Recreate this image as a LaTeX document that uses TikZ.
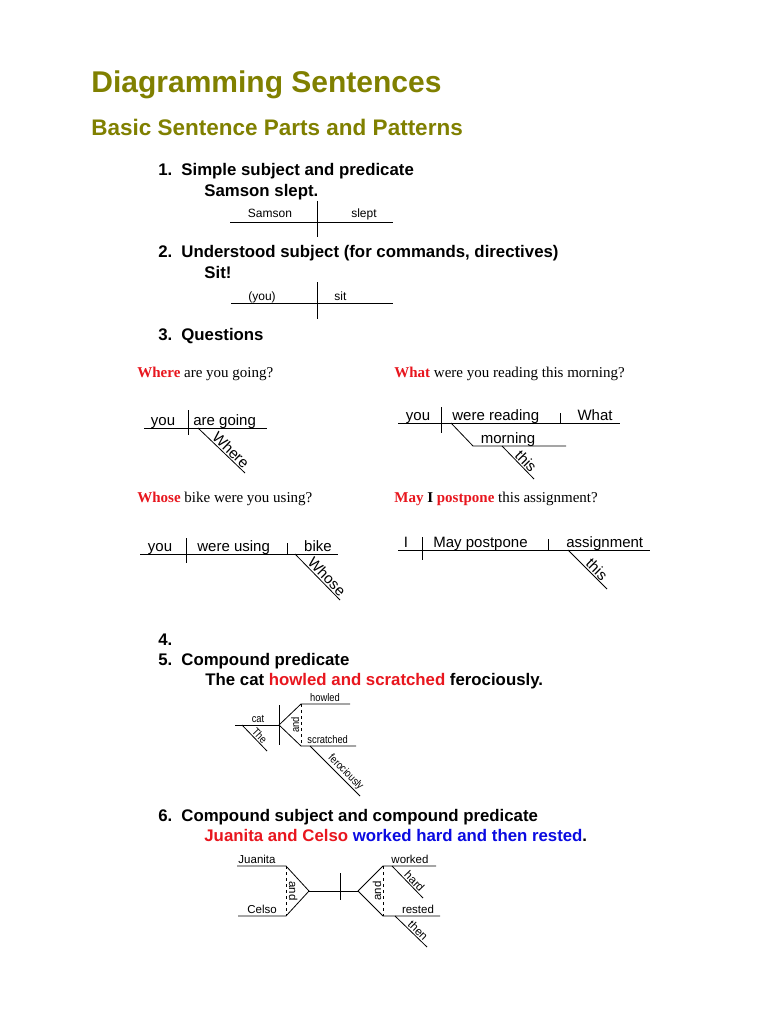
\documentclass[tikz,border=0pt]{standalone}
\usepackage{fontspec}
\setmainfont{Liberation Sans}
\newfontfamily\timesfont{Liberation Serif}
\newfontfamily\narrowfont[FakeStretch=0.85]{Liberation Sans}
\definecolor{titlegreen}{RGB}{128,128,0}
\definecolor{hired}{RGB}{232,22,30}
\definecolor{hiblue}{RGB}{10,10,225}
\newcommand{\hl}[1]{{\color{hired}#1}}
\newcommand{\hlb}[1]{{\color{hiblue}#1}}

\begin{document}
\begin{tikzpicture}[x=1pt,y=-1pt,line width=0.8pt,
    title/.style={anchor=base west,inner sep=0pt,text=titlegreen,font=\bfseries\fontsize{30}{36}\selectfont},
    subtitle/.style={anchor=base west,inner sep=0pt,text=titlegreen,font=\bfseries\fontsize{22.5}{27}\selectfont},
    item/.style={anchor=base west,inner sep=0pt,font=\bfseries\fontsize{16.8}{20}\selectfont},
    question/.style={anchor=base west,inner sep=0pt,font=\timesfont\fontsize{15}{18}\selectfont},
    word/.style={inner sep=0pt,font=\fontsize{12}{14}\selectfont},
    qword/.style={inner sep=0pt,font=\fontsize{15}{18}\selectfont},
    nword/.style={inner sep=0pt,font=\narrowfont\fontsize{11}{13}\selectfont},
    sword/.style={inner sep=0pt,font=\fontsize{11.5}{13}\selectfont},
    slant/.style={sloped,above,inner sep=1pt}]
    \fill[white] (0,0) rectangle (768,1024);
    \useasboundingbox (0,0) rectangle (768,1024);
    \node[title] (title) at (91,93) {Diagramming Sentences};
    \node[subtitle] (subtitle) at (91,136) {Basic Sentence Parts and Patterns};

    \node[item] (n1) at (158,176) {1.};
    \node[item] (t1) at (181,176) {Simple subject and predicate};
    \node[item] (s1) at (204,197) {Samson slept.};
    \draw (230,222) -- (393,222);
    \draw (317,201) -- (317,237);
    \node[word,anchor=base] (samson) at (270,218) {Samson};
    \node[word,anchor=base] (slept) at (364,218) {slept};

    \node[item] (n2) at (158,257) {2.};
    \node[item] (t2) at (181,257) {Understood subject (for commands, directives)};
    \node[item] (s2) at (204,278) {Sit!};
    \draw (231,303) -- (393,303);
    \draw (317,282) -- (317,319);
    \node[word,anchor=base] (you0) at (262,300) {(you)};
    \node[word,anchor=base west] (sit) at (334,300) {sit};

    \node[item] (n3) at (158,340) {3.};
    \node[item] (t3) at (181,340) {Questions};

    \node[question] (q1) at (137,377) {\textbf{\hl{Where}} are you going?};
    \draw (144,428) -- (267,428);
    \draw (188,410) -- (188,435);
    \node[qword,anchor=base] (you1) at (163,425) {you};
    \node[qword,anchor=base west] (going) at (193,425) {are going};
    \draw (198,428) -- (245,473) node[qword,slant,pos=.6] (where) {Where};

    \node[question] (q2) at (394,377) {\textbf{\hl{What}} were you reading this morning?};
    \draw (398,423) -- (620,423);
    \draw (441,407) -- (441,433);
    \draw (560,413) -- (560,423);
    \node[qword,anchor=base] (you2) at (418,420) {you};
    \node[qword,anchor=base west] (reading) at (452,420) {were reading};
    \node[qword,anchor=base] (what) at (595,420) {What};
    \draw (451,423) -- (473,446) -- (566,446);
    \node[qword,anchor=base] (morning) at (508,443) {morning};
    \draw (502,446) -- (534,479) node[qword,slant,pos=.6] (this1) {this};

    \node[question] (q3) at (137,502) {\textbf{\hl{Whose}} bike were you using?};
    \draw (140,554) -- (338,554);
    \draw (186,538) -- (186,563);
    \draw (287,543) -- (287,554);
    \node[qword,anchor=base] (you3) at (160,551) {you};
    \node[qword,anchor=base west] (using) at (197,551) {were using};
    \node[qword,anchor=base] (bike) at (318,551) {bike};
    \draw (295,554) -- (340,600) node[qword,slant,pos=.6] (whose) {Whose};

    \node[question] (q4) at (394,502) {\textbf{\hl{May}} \textbf{I} \textbf{\hl{postpone}} this assignment?};
    \draw (398,550) -- (650,550);
    \draw (422,537) -- (422,560);
    \draw (548,539) -- (548,550);
    \node[qword,anchor=base] (i) at (406,547) {I};
    \node[qword,anchor=base west] (postpone) at (433,547) {May postpone};
    \node[qword,anchor=base west] (assignment) at (566,547) {assignment};
    \draw (568,550) -- (607,589) node[qword,slant,pos=.62] (this2) {this};

    \node[item] (n4) at (158,645) {4.};
    \node[item] (n5) at (158,665) {5.};
    \node[item] (t5) at (181,665) {Compound predicate};
    \node[item] (s5) at (205,685) {The cat \hl{howled and scratched} ferociously.};
    \draw (235,725) -- (279,725);
    \draw (279,705) -- (279,745);
    \draw (279,725) -- (301,704) -- (350,704);
    \draw (279,725) -- (301,746) -- (356,746);
    \draw[dashed,line width=0.6pt] (301,704) -- (301,746);
    \node[nword,anchor=base] (cat) at (258,722) {cat};
    \node[nword,anchor=base] (howled) at (325,701) {howled};
    \node[nword,anchor=base west] (scratched) at (307,743) {scratched};
    \node[nword,anchor=base,rotate=90] (and1) at (299,725) {and};
    \draw (242,725) -- (267,751) node[nword,slant,pos=.55] (the) {The};
    \draw (310,746) -- (360,796) node[nword,slant,pos=.62] (fero) {ferociously};

    \node[item] (n6) at (158,821) {6.};
    \node[item] (t6) at (181,821) {Compound subject and compound predicate};
    \node[item] (s6) at (204,841) {\hl{Juanita and Celso} \hlb{worked hard and then rested}.};
    \draw (237,866) -- (286,866) -- (309,891) -- (286,916) -- (238,916);
    \draw[dashed,line width=0.6pt] (286,866) -- (286,916);
    \draw (309,891) -- (358,891);
    \draw (340,873) -- (340,900);
    \draw (358,891) -- (383,866) -- (436,866);
    \draw (358,891) -- (383,916) -- (440,916);
    \draw[dashed,line width=0.6pt] (383,866) -- (383,916);
    \node[sword,anchor=base] (juanita) at (257,863) {Juanita};
    \node[sword,anchor=base] (celso) at (262,913) {Celso};
    \node[sword,anchor=base,rotate=-90] (and2) at (289,891) {and};
    \node[sword,anchor=base,rotate=90] (and3) at (381,891) {and};
    \node[sword,anchor=base] (worked) at (410,863) {worked};
    \node[sword,anchor=base] (rested) at (418,913) {rested};
    \draw (392,866) -- (423,898) node[sword,slant,pos=.6] (hard) {hard};
    \draw (395,916) -- (427,947) node[sword,slant,pos=.6] (then) {then};
\end{tikzpicture}
\end{document}
